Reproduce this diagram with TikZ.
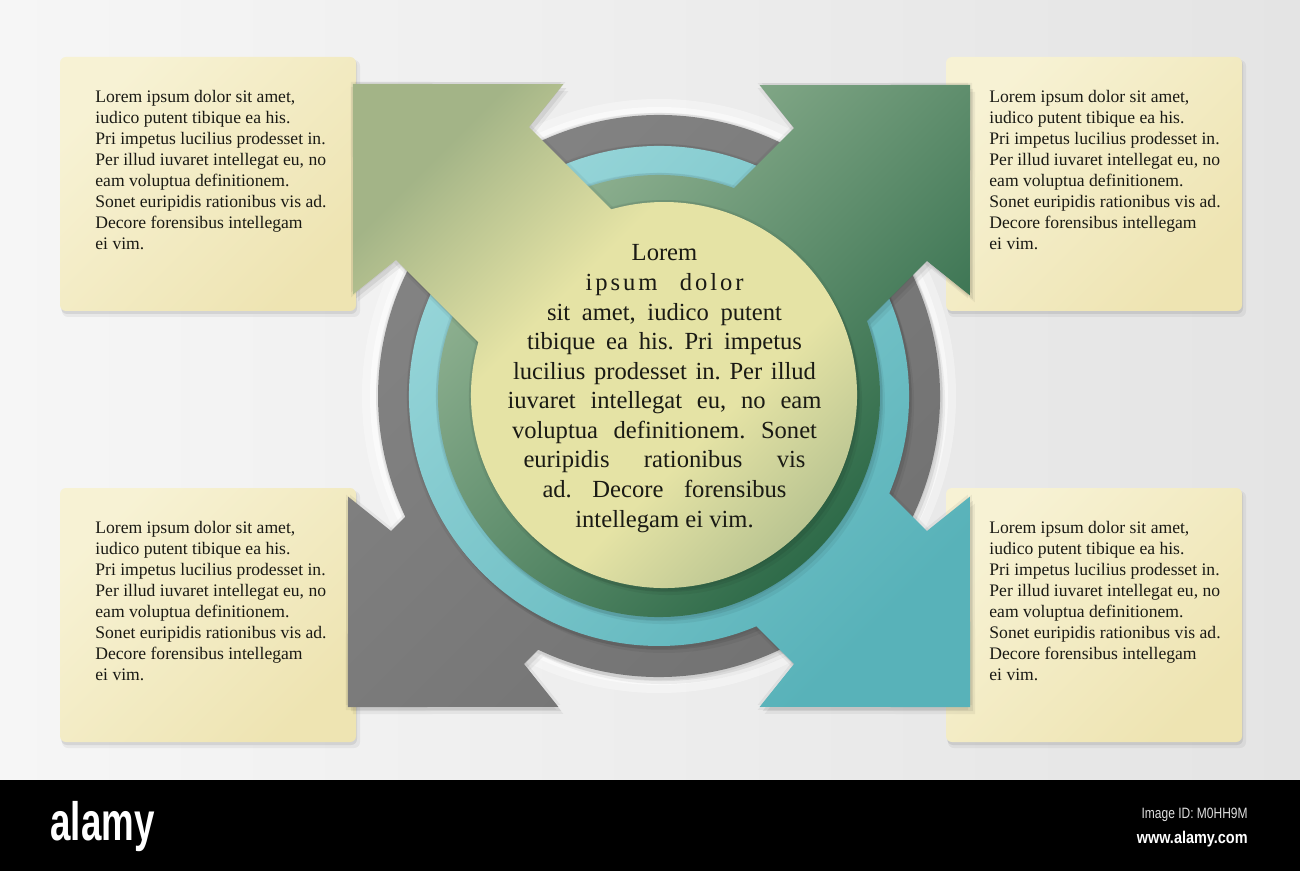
\documentclass[tikz,border=0pt]{standalone}
\usepackage{fontspec}
\usepackage{graphicx}
\setmainfont{Liberation Serif}
\newfontfamily\bandfont{Liberation Sans}
\frenchspacing
\definecolor{bgL}{HTML}{F6F6F6}
\definecolor{bgR}{HTML}{E4E4E4}
\definecolor{boxT}{HTML}{F7F2D4}
\definecolor{boxB}{HTML}{EEE4B2}
\definecolor{grayA}{HTML}{848484}
\definecolor{grayB}{HTML}{717171}
\definecolor{tealA}{HTML}{9AD7DA}
\definecolor{tealB}{HTML}{58B2B9}
\definecolor{greenA}{HTML}{9DBB9B}
\definecolor{greenB}{HTML}{21613F}
\definecolor{lightA}{HTML}{A3B487}
\definecolor{lightM}{HTML}{E5E3A5}
\definecolor{lightB}{HTML}{B9C491}
\definecolor{txt}{HTML}{1A1A14}
\pgfdeclareverticalshading{lightsh}{100bp}{color(0bp)=(lightB); color(25bp)=(lightB); color(38bp)=(lightM); color(57bp)=(lightM); color(75bp)=(lightA); color(100bp)=(lightA)}
% arm + disc outline: #1 = direction of the arm, #2 = disc radius
\newcommand\armpath[2]{({#1+asin(94/#2)}:#2) -- ({#1+18.25}:300.1) -- ({#1+27.04}:326.7) -- (#1:440) -- ({#1-27.04}:326.7) -- ({#1-18.25}:300.1) -- ({#1-asin(94/#2)}:#2) arc[start angle={#1-asin(94/#2)}, end angle={#1+asin(94/#2)-360}, radius=#2] -- cycle}
\newcommand\layershadow[4]{%
  \foreach \dx/\dy/\op in {-2/-2/0.05, 2/-2/0.05, -2/3/0.05, 3/4/0.07, 5/7/0.05} {
    \fill[black, opacity=\op, shift={(#1+\dx,#2+\dy)}] \armpath{#3}{#4};
  }}
\newcommand\boxcontent{Lorem ipsum dolor sit amet,\\ iudico putent tibique ea his.\\ Pri impetus lucilius prodesset in.\\ Per illud iuvaret intellegat eu, no\\ eam voluptua definitionem.\\ Sonet euripidis rationibus vis ad.\\ Decore forensibus intellegam\\ ei vim.}
\tikzset{
  boxtext/.style={anchor=north west, align=left, inner sep=0pt, text=txt, font=\fontsize{8.8}{10.5}\selectfont},
  ctext/.style={anchor=base, inner sep=0pt, text=txt, font=\fontsize{12.3}{14}\selectfont},
  bandtext/.style={inner sep=0pt, text=white}
}
\begin{document}
\begin{tikzpicture}[x=0.5pt,y=-0.5pt]
\useasboundingbox (0,0) rectangle (1300,871);
% background
\shade[left color=bgL, right color=bgR] (0,0) rectangle (1300,780);
% text boxes
\foreach \bx/\by in {60/57,946/57,60/488,946/488}{
  \fill[black,opacity=0.05,rounded corners=3pt] (\bx+2,\by+3) rectangle ++(298,257);
  \fill[black,opacity=0.08,rounded corners=3pt] (\bx+1,\by+2) rectangle ++(296,255);
  \shade[top color=boxT, bottom color=boxB, shading angle=45, rounded corners=3pt] (\bx,\by) rectangle ++(296,254);
}
% white halo round the rings
\fill[white,opacity=0.35] (659,396) circle (297);
\fill[white,opacity=0.5] (659,396) circle (289);
% gray layer (bottom left)
\layershadow{659}{396}{135}{281}
\shade[top color=grayA, bottom color=grayB, shading angle=45, shift={(659,396)}] \armpath{135}{281};
% teal layer (bottom right)
\layershadow{659}{396}{45}{250}
\shade[top color=tealA, bottom color=tealB, shading angle=45, shift={(659,396)}] \armpath{45}{250};
% green layer (top right)
\layershadow{659}{396}{315}{221}
\shade[top color=greenA, bottom color=greenB, shading angle=45, shift={(659,396)}] \armpath{315}{221};
% light layer (top left)
\layershadow{664}{395}{225}{193}
\shade[shading=lightsh, shading angle=45, shift={(664,395)}] \armpath{225}{193};
% box texts
\node[boxtext] (tl) at (95,90) {\boxcontent};
\node[boxtext] (tr) at (989,90) {\boxcontent};
\node[boxtext] (bl) at (95,521) {\boxcontent};
\node[boxtext] (br) at (989,521) {\boxcontent};
% centre text
\node[ctext] (c1) at (664.5,261) {Lorem};
\node[ctext] (c2) at (664.5,290.6) {\makebox[79pt][s]{\addfontfeature{LetterSpace=12}ipsum dolor}};
\node[ctext] (c3) at (664.5,320.1) {\makebox[117.5pt][s]{sit amet, iudico putent}};
\node[ctext] (c4) at (664.5,349.7) {\makebox[137.5pt][s]{tibique ea his. Pri impetus}};
\node[ctext] (c5) at (664.5,379.2) {\makebox[151.5pt][s]{lucilius prodesset in. Per illud}};
\node[ctext] (c6) at (664.5,408.8) {\makebox[157pt][s]{iuvaret intellegat eu, no eam}};
\node[ctext] (c7) at (664.5,438.4) {\makebox[152.5pt][s]{voluptua definitionem. Sonet}};
\node[ctext] (c8) at (664.5,467.9) {\makebox[141pt][s]{euripidis rationibus vis}};
\node[ctext] (c9) at (664.5,497.5) {\makebox[122pt][s]{ad. Decore forensibus}};
\node[ctext] (c10) at (664.5,527) {intellegam ei vim.};
% bottom band
\fill[black] (0,780) rectangle (1300,871);
\node[bandtext, anchor=base west, font=\bandfont\bfseries\fontsize{27}{30}\selectfont] (logo) at (50,840) {\scalebox{0.68}[1]{alamy}};
\node[bandtext, anchor=base east, text=white!88!black, font=\bandfont\fontsize{7.5}{9}\selectfont] (imgid) at (1248,818) {\scalebox{0.8}[1]{Image ID: M0HH9M}};
\node[bandtext, anchor=base east, font=\bandfont\bfseries\fontsize{8.5}{10}\selectfont] (www) at (1248,843) {\scalebox{0.85}[1]{www.alamy.com}};
\end{tikzpicture}
\end{document}
